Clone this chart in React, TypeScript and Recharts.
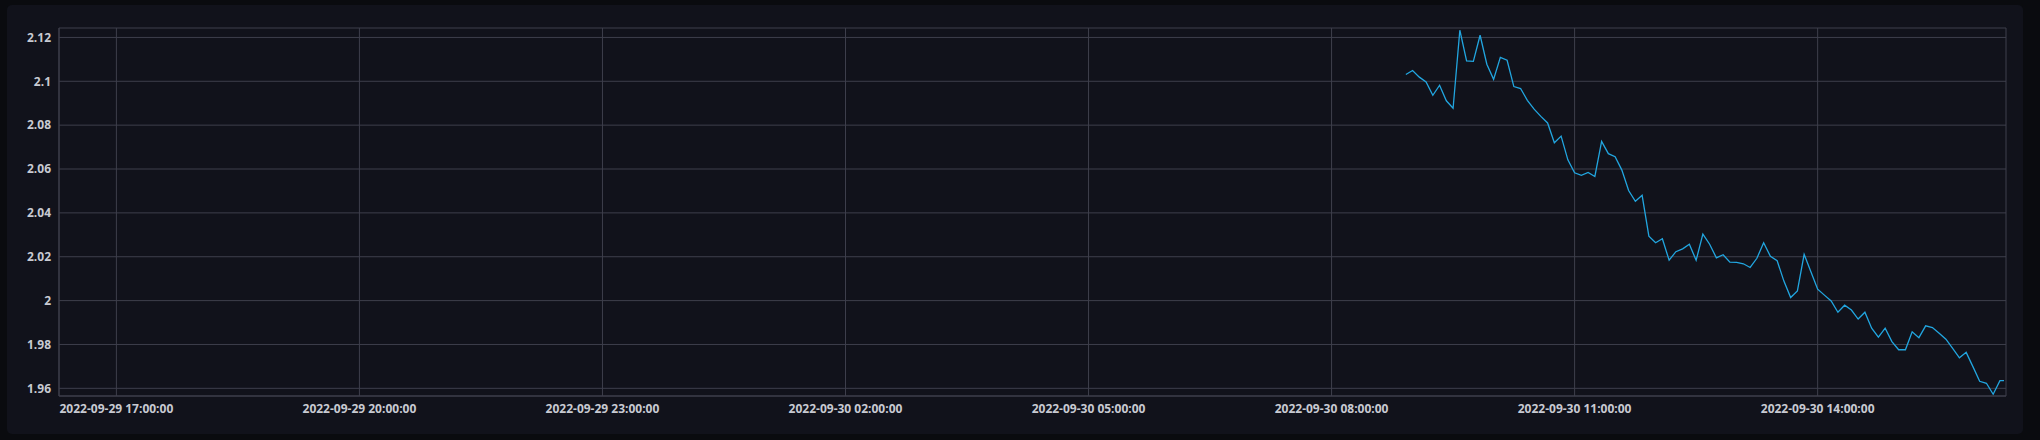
import React from 'react';
import { LineChart, Line, XAxis, YAxis, CartesianGrid, ReferenceArea } from 'recharts';

const DATA_DATE = '2022-09-30';

const TIMES = [
  '08:55',
  '09:00', '09:05', '09:10', '09:15', '09:20', '09:25', '09:30', '09:35', '09:40', '09:45', '09:50', '09:55',
  '10:00', '10:05', '10:10', '10:15', '10:20', '10:25', '10:30', '10:35', '10:40', '10:45', '10:50', '10:55',
  '11:00', '11:05', '11:10', '11:15', '11:20', '11:25', '11:30', '11:35', '11:40', '11:45', '11:50', '11:55',
  '12:00', '12:05', '12:10', '12:15', '12:20', '12:25', '12:30', '12:35', '12:40', '12:45', '12:50', '12:55',
  '13:00', '13:05', '13:10', '13:15', '13:20', '13:25', '13:30', '13:35', '13:40', '13:45', '13:50', '13:55',
  '14:00', '14:05', '14:10', '14:15', '14:20', '14:25', '14:30', '14:35', '14:40', '14:45', '14:50', '14:55',
  '15:00', '15:05', '15:10', '15:15', '15:20', '15:25', '15:30', '15:35', '15:40', '15:45', '15:50', '15:55',
  '16:00', '16:05', '16:10', '16:15', '16:18',
];

const VALUES = [
  2.1031,
  2.1049, 2.1019, 2.0997, 2.0936, 2.0982, 2.0911, 2.0877, 2.1233, 2.1093, 2.1091, 2.1210, 2.1078,
  2.1009, 2.1109, 2.1096, 2.0976, 2.0967, 2.0913, 2.0873, 2.0840, 2.0810, 2.0720, 2.0750, 2.0642,
  2.0583, 2.0571, 2.0584, 2.0566, 2.0726, 2.0670, 2.0656, 2.0595, 2.0502, 2.0453, 2.0480, 2.0294,
  2.0264, 2.0282, 2.0184, 2.0223, 2.0236, 2.0257, 2.0184, 2.0303, 2.0257, 2.0195, 2.0209, 2.0175,
  2.0174, 2.0168, 2.0151, 2.0193, 2.0264, 2.0202, 2.0182, 2.0089, 2.0014, 2.0044, 2.0211, 2.0132,
  2.0052, 2.0025, 1.9998, 1.9947, 1.9979, 1.9957, 1.9916, 1.9947, 1.9874, 1.9833, 1.9874, 1.9813,
  1.9776, 1.9776, 1.9858, 1.9831, 1.9885, 1.9877, 1.9851, 1.9824, 1.9782, 1.9739, 1.9764, 1.9699,
  1.9632, 1.9623, 1.9573, 1.9635, 1.9635,
];

const X_TICK_LABELS = [
  '2022-09-29 17:00:00',
  '2022-09-29 20:00:00',
  '2022-09-29 23:00:00',
  '2022-09-30 02:00:00',
  '2022-09-30 05:00:00',
  '2022-09-30 08:00:00',
  '2022-09-30 11:00:00',
  '2022-09-30 14:00:00',
];

const X_DOMAIN_LABELS = ['2022-09-29 16:17:30', '2022-09-30 16:19:30'];

const Y_TICKS = [1.96, 1.98, 2, 2.02, 2.04, 2.06, 2.08, 2.1, 2.12];
const Y_DOMAIN: [number, number] = [1.9565, 2.1243];

const toMs = (s: string) => {
  const [d, t] = s.split(' ');
  const [Y, M, D] = d.split('-').map(Number);
  const [h, m, sec] = t.split(':').map(Number);
  return Date.UTC(Y, M - 1, D, h, m, sec || 0);
};
const pad = (n: number) => String(n).padStart(2, '0');
const fmtTime = (ms: number) => {
  const d = new Date(ms);
  return `${d.getUTCFullYear()}-${pad(d.getUTCMonth() + 1)}-${pad(d.getUTCDate())} ${pad(
    d.getUTCHours()
  )}:${pad(d.getUTCMinutes())}:${pad(d.getUTCSeconds())}`;
};
const fmtValue = (v: number) => String(Number(v.toFixed(2)));

const data = TIMES.map((t, i) => ({ t: toMs(`${DATA_DATE} ${t}:00`), v: VALUES[i] }));
const xTicks = X_TICK_LABELS.map(toMs);
const xDomain: [number, number] = [toMs(X_DOMAIN_LABELS[0]), toMs(X_DOMAIN_LABELS[1])];

const GRID = '#3e3f4c';
const TEXT = '#c8cad2';
const LINE = '#22a6e0';

const tickStyle = { fill: TEXT, fontSize: 12, fontFamily: '"Open Sans", sans-serif', fontWeight: 700 };

export default function App() {
  return (
    <div style={{ position: 'fixed', left: 0, top: 0, width: 2040, height: 440, background: '#0a0b0f', overflow: 'hidden' }}>
      <div
        style={{
          position: 'absolute',
          left: 7,
          top: 5,
          width: 2016,
          height: 429,
          background: '#11121b',
          borderRadius: 5,
        }}
      />
      <div style={{ position: 'absolute', left: 0, top: 0 }}>
        <LineChart width={2040} height={440} data={data} margin={{ top: 28, right: 34, left: 0, bottom: 14 }}>
          <CartesianGrid stroke={GRID} strokeWidth={1} />
          <ReferenceArea fill="none" stroke={GRID} strokeWidth={1} ifOverflow="visible" />
          <XAxis
            dataKey="t"
            type="number"
            scale="linear"
            domain={xDomain}
            ticks={xTicks}
            tickFormatter={fmtTime}
            allowDataOverflow
            height={30}
            tickLine={false}
            axisLine={{ stroke: GRID }}
            tick={tickStyle}
            interval={0}
          />
          <YAxis
            type="number"
            domain={Y_DOMAIN}
            ticks={Y_TICKS}
            tickFormatter={fmtValue}
            allowDataOverflow
            width={59}
            tickLine={false}
            axisLine={{ stroke: GRID }}
            tick={tickStyle}
            interval={0}
          />
          <Line
            type="linear"
            dataKey="v"
            stroke={LINE}
            strokeWidth={1.3}
            dot={false}
            activeDot={false}
            isAnimationActive={false}
          />
        </LineChart>
      </div>
    </div>
  );
}
